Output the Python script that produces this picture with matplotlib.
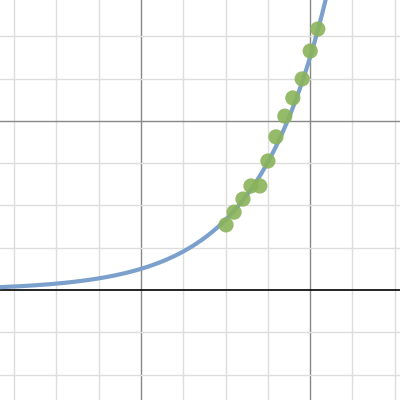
import numpy as np
import matplotlib.pyplot as plt

pts_x = [2.01, 2.20, 2.41, 2.60, 2.81, 3.00, 3.19, 3.40, 3.59, 3.81, 4.00, 4.18]
pts_y = [1.54, 1.84, 2.15, 2.46, 2.46, 3.05, 3.62, 4.11, 4.54, 4.99, 5.65, 6.17]
amp, rate = 0.5, 0.6

fig = plt.figure(figsize=(4, 4), dpi=100)
ax = fig.add_axes([0, 0, 1, 1])
xmin, xmax = -141 / 42.3, 259 / 42.3
ymin, ymax = -110 / 42.3, 290 / 42.3
ax.set_xlim(xmin, xmax)
ax.set_ylim(ymin, ymax)

for v in np.arange(-3, 7):
    major = v % 4 == 0
    ax.axvline(v, color='#888888' if major else '#dddddd', lw=1.0, zorder=0)
for v in np.arange(-2, 7):
    if v == 0:
        continue
    major = v % 4 == 0
    ax.axhline(v, color='#888888' if major else '#dddddd', lw=1.0, zorder=0)
ax.axhline(0, color='black', lw=1.2, zorder=1)

x = np.linspace(xmin, xmax, 400)
ax.plot(x, amp * np.exp(rate * x), color='#7ba0cc', lw=3, zorder=2)
ax.scatter(pts_x, pts_y, s=120, color='#8ab35a', edgecolors='none', alpha=0.9, zorder=3)
ax.axis('off')
fig.savefig('out.png')
